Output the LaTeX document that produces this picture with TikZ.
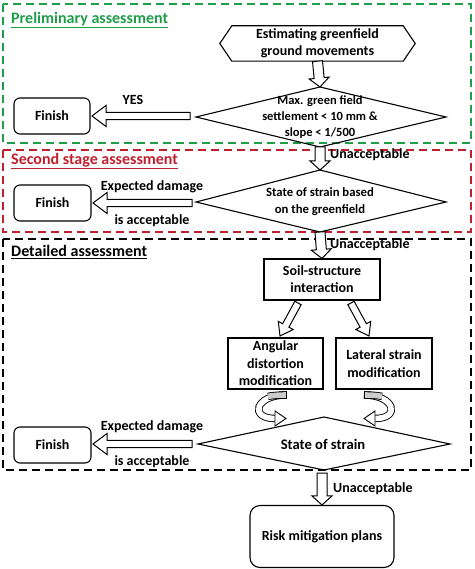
\documentclass[tikz,border=0pt]{standalone}
\usepackage{fontspec}
\setmainfont{Carlito}
\usetikzlibrary{calc}
\definecolor{grn}{RGB}{31,158,74}
\definecolor{rd}{RGB}{192,32,46}
% block (hollow) arrow: #1 shaft half-width, #2 head half-width, #3 head length, #4 tail, #5 tip
\newcommand\barr[5]{%
 \draw[blk] ($(#4)!#1!90:(#5)$) -- ($(#5)!#3!(#4)!#1!-90:(#4)$) -- ($(#5)!#3!(#4)!#2!-90:(#4)$) -- (#5) -- ($(#5)!#3!(#4)!#2!90:(#4)$) -- ($(#5)!#3!(#4)!#1!90:(#4)$) -- ($(#4)!#1!-90:(#5)$) -- cycle;}
\begin{document}
\begin{tikzpicture}[x=1pt,y=-1pt,
  f14/.style={font=\fontsize{14}{17}\selectfont\bfseries},
  box/.style={draw, line width=1.1pt, align=center, f14, inner sep=0pt},
  rbox/.style={box, rounded corners=6pt},
  txt/.style={align=center, inner sep=0pt, f14},
  shp/.style={draw, line width=1.1pt, line join=miter},
  blk/.style={draw, fill=white, line width=1pt, line join=miter},
  frame/.style={line width=1.6pt, dash pattern=on 8pt off 5pt},
  ttl/.style={anchor=west, inner sep=0pt, font=\fontsize{16}{19}\selectfont\bfseries},
  curvarr/.pic={
    \draw[double=white, double distance=5.6pt, line width=0.9pt] (0,0) .. controls (-31,0) and (-37,23.5) .. (-11,23.5);
    \draw[double=gray!40, double distance=5.6pt, line width=0.9pt] (0,0) .. controls (-7,0) and (-13,0.4) .. (-18,1.4);
    \draw[line width=0.9pt] (0,-3.7) -- (0,3.7);
    \draw[blk, line width=0.9pt] (-11,16) -- (0,23.5) -- (-11,31) -- cycle;
  }]
\useasboundingbox (0,0) rectangle (474,569);

% ---------- frames ----------
\draw[frame, grn] (3,4) rectangle (471,143);
\draw[frame, rd] (3,150) rectangle (471,232);
\draw[frame, black] (3,239) rectangle (471,470);
\node[ttl, text=grn] (t1) at (11,20) {\underline{Preliminary assessment}};
\node[ttl, text=rd] (t2) at (11,161) {\underline{Second stage assessment}};
\node[ttl, text=black] (t3) at (11,252) {\underline{Detailed assessment}};

% ---------- preliminary ----------
\node[txt, minimum width=195pt, minimum height=35pt] (hex) at (317.5,43.5) {Estimating greenfield\\ground movements};
\draw[shp] (hex.west) -- ($(hex.north west)+(12,0)$) -- ($(hex.north east)+(-12,0)$) -- (hex.east)
  -- ($(hex.south east)+(-12,0)$) -- ($(hex.south west)+(12,0)$) -- cycle;

\coordinate (d1n) at (320,87);
\coordinate (d1s) at (320,147);
\coordinate (d1w) at (196,117);
\coordinate (d1e) at (446,117);
\draw[shp] (d1n) -- (d1e) -- (d1s) -- (d1w) -- cycle;
\node[txt, font=\fontsize{12.5}{16}\selectfont\bfseries] (d1) at (320,117) {Max. green field\\settlement < 10 mm \&\\slope < 1/500};

\node[rbox, minimum width=76pt, minimum height=36pt] (fin1) at (52,116) {Finish};
\coordinate (a1t) at (190,116);
\coordinate (a1h) at (92,116);
\node[txt] (yes) at (133,100) {YES};

\barr{5pt}{10pt}{9pt}{hex.south}{d1n}
\barr{3.7pt}{10.5pt}{14pt}{a1t}{a1h}

% ---------- second stage ----------
\coordinate (d2n) at (320,170);
\coordinate (d2s) at (320,232);
\coordinate (d2w) at (196,202);
\coordinate (d2e) at (446,202);
\draw[shp] (d2n) -- (d2e) -- (d2s) -- (d2w) -- cycle;
\node[txt, font=\fontsize{12.7}{17}\selectfont\bfseries] (d2) at (320,202) {State of strain based\\on the greenfield};

\node[rbox, minimum width=77pt, minimum height=36pt] (fin2) at (52.5,203) {Finish};
\coordinate (a2t) at (192,203);
\coordinate (a2h) at (93,203);
\node[txt] (ed2) at (152,187) {Expected damage};
\node[txt] (ia2) at (152,221) {is acceptable};

\barr{5pt}{10pt}{9pt}{d1s}{d2n}
\node[txt, anchor=west] (u1) at (330,155) {Unacceptable};
\barr{3.7pt}{10.5pt}{14pt}{a2t}{a2h}

% ---------- detailed ----------
\node[box, minimum width=116pt, minimum height=41pt] (soil) at (322,279.5) {Soil-structure\\interaction};
\barr{5pt}{10pt}{9pt}{d2s}{soil.north}
\node[txt, anchor=west] (u2) at (330,245) {Unacceptable};

\node[box, minimum width=95pt, minimum height=51pt, font=\fontsize{14}{17.5}\selectfont\bfseries] (ang) at (275.5,363.5) {Angular\\distortion\\modification};
\node[box, minimum width=96pt, minimum height=51pt, font=\fontsize{14}{17.5}\selectfont\bfseries] (lat) at (384,363.5) {Lateral strain\\modification};

\coordinate (s1t) at (298,303);
\coordinate (s1h) at (280,336);
\coordinate (s2t) at (351,303);
\coordinate (s2h) at (369,336);
\barr{3.6pt}{8.5pt}{12pt}{s1t}{s1h}
\barr{3.6pt}{8.5pt}{12pt}{s2t}{s2h}

\coordinate (d3n) at (324,417);
\coordinate (d3s) at (324,470);
\coordinate (d3w) at (198,444);
\coordinate (d3e) at (450,444);
\draw[shp] (d3n) -- (d3e) -- (d3s) -- (d3w) -- cycle;
\node[txt, font=\fontsize{14.6}{17}\selectfont\bfseries] (d3) at (323,444) {State of strain};

\pic at (286,395) {curvarr};
\pic[xscale=-1] at (364,395) {curvarr};

\node[rbox, minimum width=77pt, minimum height=36pt] (fin3) at (52.5,445) {Finish};
\coordinate (a3t) at (192,444);
\coordinate (a3h) at (93,444);
\node[txt] (ed3) at (152,427) {Expected damage};
\node[txt] (ia3) at (152,462) {is acceptable};
\barr{3.7pt}{10.5pt}{14pt}{a3t}{a3h}

% ---------- risk ----------
\node[rbox, rounded corners=10pt, minimum width=144pt, minimum height=62pt] (risk) at (322,536.5) {Risk mitigation plans};
\coordinate (u3t) at (322,473);
\barr{5pt}{10pt}{9pt}{u3t}{risk.north}
\node[txt, anchor=west] (u3) at (333,489) {Unacceptable};
\end{tikzpicture}
\end{document}
